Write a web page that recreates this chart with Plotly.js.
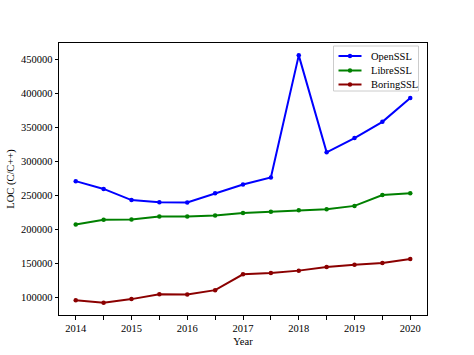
<!DOCTYPE html>
<html>
<head>
<meta charset="utf-8">
<script src="https://cdn.plot.ly/plotly-3.0.1.min.js"></script>
<style>html,body{margin:0;padding:0;background:#fff;}#chart{width:474px;height:355px;}</style>
</head>
<body>
<div id="chart"></div>
<script>
const years = [2014, 2014.5, 2015, 2015.5, 2016, 2016.5, 2017, 2017.5, 2018, 2018.5, 2019, 2019.5, 2020];
const openssl = [271000, 259500, 243000, 240000, 239500, 253000, 266000, 276500, 456500, 313500, 334500, 358500, 393500];
const libressl = [207000, 214000, 214500, 219000, 219000, 220500, 224000, 226000, 228000, 229500, 234500, 250500, 253000];
const boringssl = [95500, 91800, 97000, 104300, 103900, 110200, 133500, 135400, 139000, 144300, 147800, 150200, 156000];
const seriesNames = ['OpenSSL', 'LibreSSL', 'BoringSSL'];
const seriesColors = ['#0000ff', '#008000', '#8b0000'];
const xTickVals = [2014, 2015, 2016, 2017, 2018, 2019, 2020];
const yTickVals = [100000, 150000, 200000, 250000, 300000, 350000, 400000, 450000];

const allY = openssl.concat(libressl, boringssl);
const ymin = Math.min(...allY), ymax = Math.max(...allY);
const ypad = (ymax - ymin) * 0.05;
const xpad = (years[years.length-1] - years[0]) * 0.05;

const W = 474, H = 355;
const M = {l: 59, r: 47, t: 43, b: 40};
const pw = W - M.l - M.r, ph = H - M.t - M.b;
const px = v => (v - M.l) / pw;        // pixel x -> paper
const py = v => 1 - (v - M.t) / ph;    // pixel y -> paper

const font = {family: 'Liberation Serif, Times New Roman, serif', size: 10.5, color: '#000'};
const data = [openssl, libressl, boringssl].map((ys, i) => ({
  x: years, y: ys, name: seriesNames[i], type: 'scatter', mode: 'lines+markers',
  line: {color: seriesColors[i], width: 2},
  marker: {color: seriesColors[i], size: 4.5}
}));

// custom legend (matplotlib-like compact box)
const legBox = {x0: 333.5, x1: 418.5, y0: 46, y1: 91};
const legRowY = [56, 70.5, 84.5];
const shapes = [{type: 'rect', xref: 'paper', yref: 'paper',
  x0: px(legBox.x0), x1: px(legBox.x1), y0: py(legBox.y1), y1: py(legBox.y0),
  line: {color: '#cccccc', width: 1}, fillcolor: 'rgba(255,255,255,0.85)', layer: 'above'}];
const annotations = [];
seriesNames.forEach((n, i) => {
  const yy = legRowY[i];
  shapes.push({type: 'line', xref: 'paper', yref: 'paper', x0: px(338.5), x1: px(361.5), y0: py(yy), y1: py(yy),
    line: {color: seriesColors[i], width: 2}, layer: 'above'});
  shapes.push({type: 'circle', xref: 'paper', yref: 'paper', x0: px(347.8), x1: px(352.2), y0: py(yy + 2.2), y1: py(yy - 2.2),
    line: {width: 0}, fillcolor: seriesColors[i], layer: 'above'});
  annotations.push({text: n, xref: 'paper', yref: 'paper', x: px(369), y: py(yy), xanchor: 'left', yanchor: 'middle',
    showarrow: false, font: font});
});

const layout = {
  width: W, height: H,
  margin: {l: M.l, r: M.r, t: M.t, b: M.b, pad: 0},
  paper_bgcolor: '#fff', plot_bgcolor: '#fff',
  font: font,
  showlegend: false,
  shapes: shapes,
  annotations: annotations,
  xaxis: {
    range: [years[0] - xpad, years[years.length-1] + xpad],
    tickvals: xTickVals, ticktext: xTickVals.map(String),
    ticks: 'outside', ticklen: 3.5, tickwidth: 1, tickcolor: '#000',
    minor: {ticks: 'outside', ticklen: 3.5, tickwidth: 1, tickcolor: '#000', dtick: 0.5, tick0: 2014, showgrid: false},
    showline: true, linecolor: '#000', linewidth: 1, mirror: true,
    showgrid: false, zeroline: false, automargin: false,
    title: {text: 'Year', font: font, standoff: 4}
  },
  yaxis: {
    range: [ymin - ypad, ymax + ypad],
    tickvals: yTickVals, ticktext: yTickVals.map(String),
    ticks: 'outside', ticklen: 3.5, tickwidth: 1, tickcolor: '#000',
    showline: true, linecolor: '#000', linewidth: 1, mirror: true,
    showgrid: false, zeroline: false, automargin: false,
    title: {text: 'LOC (C/C++)', font: font, standoff: 4}
  }
};
Plotly.newPlot('chart', data, layout, {displayModeBar: false, staticPlot: true});
</script>
</body>
</html>
